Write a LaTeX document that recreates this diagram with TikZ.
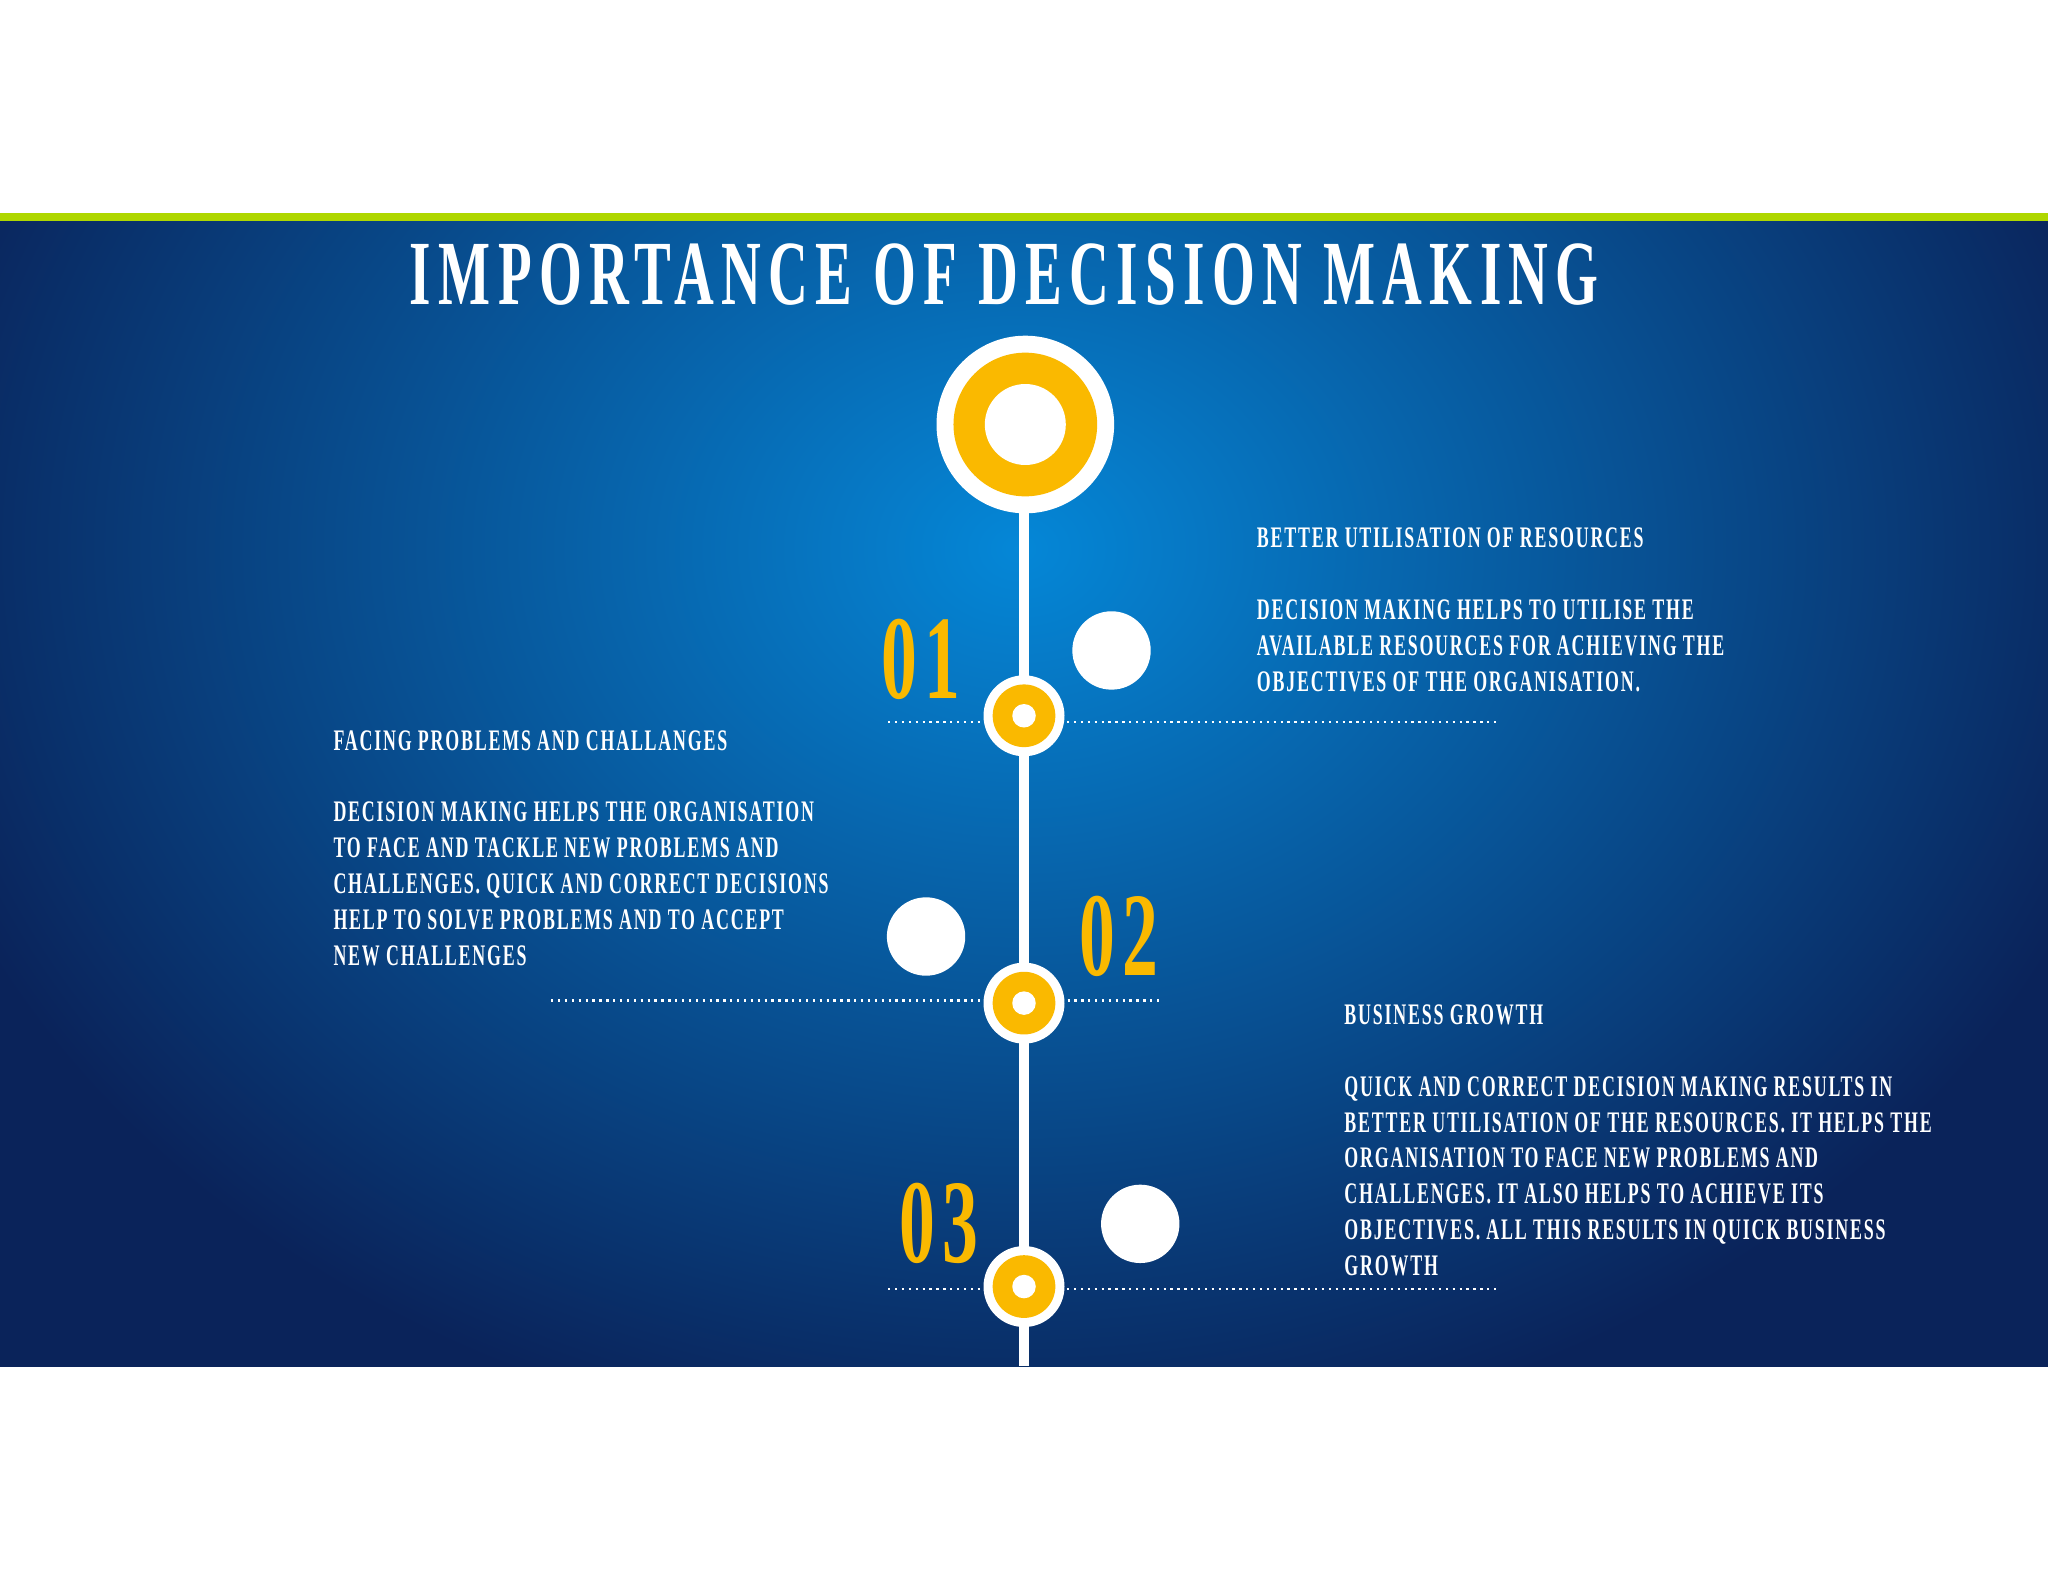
\documentclass[tikz,border=0pt]{standalone}
\usepackage{fontspec}
\setmainfont{Liberation Serif}[FakeStretch=0.6,LetterSpace=6]
\definecolor{gold}{RGB}{250,185,0}
\definecolor{lime}{RGB}{175,215,0}
\definecolor{navy}{RGB}{10,35,90}
\definecolor{midblue}{RGB}{5,135,215}
\begin{document}
\begin{tikzpicture}[x=0.02cm,y=-0.02cm,
  body/.style={anchor=north west,inner sep=0pt,align=left,text=white,font=\bfseries\fontsize{13}{15.6}\selectfont},
  num/.style={text=gold,font=\bfseries\fontsize{52}{52}\selectfont,inner sep=0pt},
  dotline/.style={white,line width=1pt,dotted},
  dot/.style={circle,fill=white,minimum size=60*0.02cm,inner sep=0pt}]
\useasboundingbox (0,0) rectangle (1568,1211);
\fill[white] (0,0) rectangle (1568,1211);
\begin{scope}
\clip (0,169) rectangle (1568,1046);
\fill[navy] (0,169) rectangle (1568,1046);
\shade[inner color=midblue,outer color=navy] (-100,-280) rectangle (1660,1120);
\end{scope}
\fill[lime] (0,163) rectangle (1568,169);
\node[text=white,font=\bfseries\fontsize{40}{40}\selectfont\addfontfeature{LetterSpace=8},inner sep=0pt] (title) at (769,210) {IMPORTANCE OF DECISION MAKING};
% dotted lines
\coordinate (d1a) at (680,553); \coordinate (d1b) at (1147,553);
\coordinate (d2a) at (422,766); \coordinate (d2b) at (890,766);
\coordinate (d3a) at (680,987); \coordinate (d3b) at (1147,987);
\draw[dotline] (d1a) -- (d1b);
\draw[dotline] (d2a) -- (d2b);
\draw[dotline] (d3a) -- (d3b);
% spine
\coordinate (top) at (785,325); \coordinate (bot) at (784,1046); \coordinate (sp) at (784,390);
\draw[white,line width=4pt] (sp) -- (bot);
\fill[white] (top) circle (68); \fill[gold] (top) circle (55); \fill[white] (top) circle (31);
\foreach \y/\n in {548/a,768/b,985/c}{
  \coordinate (s\n) at (784,\y);
  \fill[white] (s\n) circle (31); \fill[gold] (s\n) circle (24); \fill[white] (s\n) circle (9);
}
\node[dot] (w1) at (851,498) {};
\node[dot] (w2) at (709,717) {};
\node[dot] (w3) at (873,937) {};
\node[num] (n1) at (705,505) {01};
\node[num] (n2) at (857,717) {02};
\node[num] (n3) at (719,937) {03};
\node[body] (t1) at (962,404) {BETTER UTILISATION OF RESOURCES\\[15.6pt]DECISION MAKING HELPS TO UTILISE THE\\AVAILABLE RESOURCES FOR ACHIEVING THE\\OBJECTIVES OF THE ORGANISATION.};
\node[body] (t2) at (255,559) {FACING PROBLEMS AND CHALLANGES\\[15.6pt]DECISION MAKING HELPS THE ORGANISATION\\TO FACE AND TACKLE NEW PROBLEMS AND\\CHALLENGES. QUICK AND CORRECT DECISIONS\\HELP TO SOLVE PROBLEMS AND TO ACCEPT\\NEW CHALLENGES};
\node[body] (t3) at (1029,769) {BUSINESS GROWTH\\[15.6pt]QUICK AND CORRECT DECISION MAKING RESULTS IN\\BETTER UTILISATION OF THE RESOURCES. IT HELPS THE\\ORGANISATION TO FACE NEW PROBLEMS AND\\CHALLENGES. IT ALSO HELPS TO ACHIEVE ITS\\OBJECTIVES. ALL THIS RESULTS IN QUICK BUSINESS\\GROWTH};
\end{tikzpicture}
\end{document}
